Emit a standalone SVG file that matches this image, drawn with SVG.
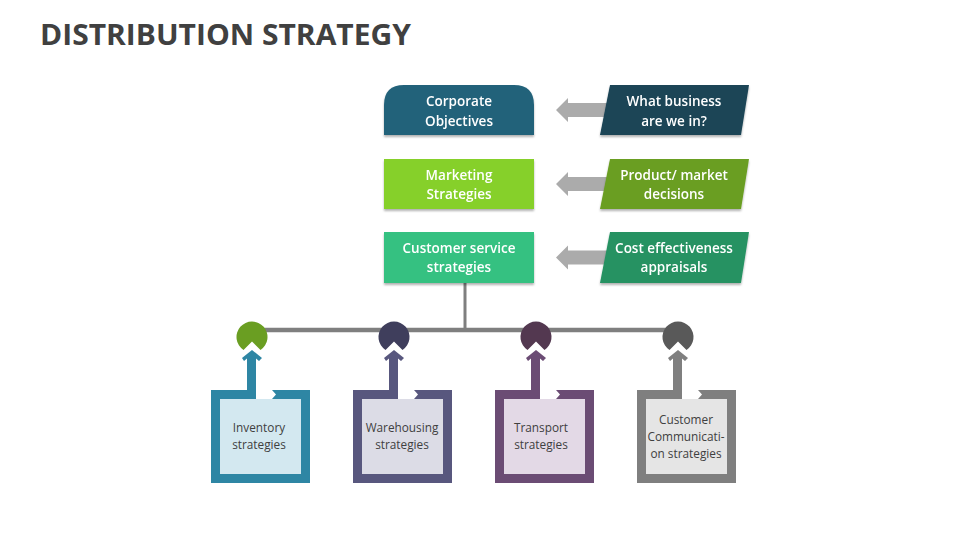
<svg xmlns="http://www.w3.org/2000/svg" width="960" height="540" viewBox="0 0 960 540">
<defs>
<filter id="sh" x="-10%" y="-10%" width="120%" height="130%">
<feDropShadow dx="0" dy="2" stdDeviation="1.2" flood-color="#000" flood-opacity="0.3"/>
</filter>
<style>
.title{font-family:"Open Sans","Liberation Sans",sans-serif;font-weight:700;font-size:28px;fill:#404040}
.wt{font-family:"Open Sans","Liberation Sans",sans-serif;font-weight:600;font-size:13.5px;fill:#ffffff;text-anchor:middle}
.bt{font-family:"Open Sans","Liberation Sans",sans-serif;font-size:11.8px;fill:#404040;text-anchor:middle}
.garrow{fill:#ABABAB}
.conn{stroke:#7F7F7F;fill:none}
</style>
</defs>
<rect width="960" height="540" fill="#ffffff"/>
<text class="title" x="40" y="45" textLength="371" lengthAdjust="spacingAndGlyphs">DISTRIBUTION STRATEGY</text>

<g id="connectors">
<line class="conn" x1="465" y1="283" x2="465" y2="330" stroke-width="3"/>
<line class="conn" x1="252" y1="330" x2="677" y2="330" stroke-width="4.5"/>
<path class="garrow" d="M556,110 L568,98 L568,103 L612,103 L612,117 L568,117 L568,122 Z"/>
<path class="garrow" d="M556,184 L568,172 L568,177 L612,177 L612,191 L568,191 L568,196 Z"/>
<path class="garrow" d="M556,257.5 L568,245.5 L568,250.5 L612,250.5 L612,264.5 L568,264.5 L568,269.5 Z"/>
</g>

<g id="corporate-objectives" filter="url(#sh)">
<path d="M384,135 L384,105 Q384,85 404,85 L514,85 Q534,85 534,105 L534,135 Z" fill="#24627A"/>
<text class="wt" x="459" y="106">Corporate</text>
<text class="wt" x="459" y="126">Objectives</text>
</g>
<g id="marketing-strategies" filter="url(#sh)">
<rect x="384" y="159" width="150" height="50" fill="#86D02B"/>
<text class="wt" x="459" y="180">Marketing</text>
<text class="wt" x="459" y="199">Strategies</text>
</g>
<g id="customer-service" filter="url(#sh)">
<rect x="384" y="232" width="150" height="51" fill="#34C181"/>
<text class="wt" x="459" y="253">Customer service</text>
<text class="wt" x="459" y="272">strategies</text>
</g>

<g id="what-business" filter="url(#sh)">
<polygon points="610,85 749,85 741,135 600,135" fill="#1B4556"/>
<text class="wt" x="674" y="106">What business</text>
<text class="wt" x="674" y="126">are we in?</text>
</g>
<g id="product-market" filter="url(#sh)">
<polygon points="610,159 749,159 741,209 600,209" fill="#6A9E22"/>
<text class="wt" x="674" y="180">Product/ market</text>
<text class="wt" x="674" y="199">decisions</text>
</g>
<g id="cost-effectiveness" filter="url(#sh)">
<polygon points="610,232 749,232 741,283 600,283" fill="#259262"/>
<text class="wt" x="674" y="253">Cost effectiveness</text>
<text class="wt" x="674" y="272">appraisals</text>
</g>

<g id="inventory" transform="translate(211,0)">
<rect x="9" y="399" width="81" height="75" fill="#D3E8F0"/>
<path d="M45,390 L0,390 L0,483 L99,483 L99,390 L61,390 L65,394.5 L61,399 L90,399 L90,474 L9,474 L9,399 L45,399 Z" fill="#2E86A4"/>
<path d="M41,350 L51,358 L48,361 L45,358.5 L45,391 L36,391 L36,358.5 L33,361 L31,358 Z" fill="#2E86A4"/>
<path d="M32.5,350 A15.5,15.5 0 1 1 49.5,350 L41,341.5 Z" fill="#6A9E22"/>
<text class="bt" x="48" y="432">Inventory</text>
<text class="bt" x="48" y="449">strategies</text>
</g>
<g id="warehousing" transform="translate(353,0)">
<rect x="9" y="399" width="81" height="75" fill="#DCDCE6"/>
<path d="M45,390 L0,390 L0,483 L99,483 L99,390 L61,390 L65,394.5 L61,399 L90,399 L90,474 L9,474 L9,399 L45,399 Z" fill="#58577E"/>
<path d="M41,350 L51,358 L48,361 L45,358.5 L45,391 L36,391 L36,358.5 L33,361 L31,358 Z" fill="#58577E"/>
<path d="M32.5,350 A15.5,15.5 0 1 1 49.5,350 L41,341.5 Z" fill="#3F3E5C"/>
<text class="bt" x="49" y="432">Warehousing</text>
<text class="bt" x="49" y="449">strategies</text>
</g>
<g id="transport" transform="translate(495,0)">
<rect x="9" y="399" width="81" height="75" fill="#E3D9E6"/>
<path d="M45,390 L0,390 L0,483 L99,483 L99,390 L61,390 L65,394.5 L61,399 L90,399 L90,474 L9,474 L9,399 L45,399 Z" fill="#6B4C74"/>
<path d="M41,350 L51,358 L48,361 L45,358.5 L45,391 L36,391 L36,358.5 L33,361 L31,358 Z" fill="#6B4C74"/>
<path d="M32.5,350 A15.5,15.5 0 1 1 49.5,350 L41,341.5 Z" fill="#533850"/>
<text class="bt" x="46" y="432">Transport</text>
<text class="bt" x="46" y="449">strategies</text>
</g>
<g id="customer-communication" transform="translate(637,0)">
<rect x="9" y="399" width="81" height="75" fill="#E5E5E5"/>
<path d="M45,390 L0,390 L0,483 L99,483 L99,390 L61,390 L65,394.5 L61,399 L90,399 L90,474 L9,474 L9,399 L45,399 Z" fill="#7F7F7F"/>
<path d="M41,350 L51,358 L48,361 L45,358.5 L45,391 L36,391 L36,358.5 L33,361 L31,358 Z" fill="#7F7F7F"/>
<path d="M32.5,350 A15.5,15.5 0 1 1 49.5,350 L41,341.5 Z" fill="#595959"/>
<text class="bt" x="49" y="424">Customer</text>
<text class="bt" x="49" y="441">Communicati-</text>
<text class="bt" x="49" y="458">on strategies</text>
</g>
</svg>
